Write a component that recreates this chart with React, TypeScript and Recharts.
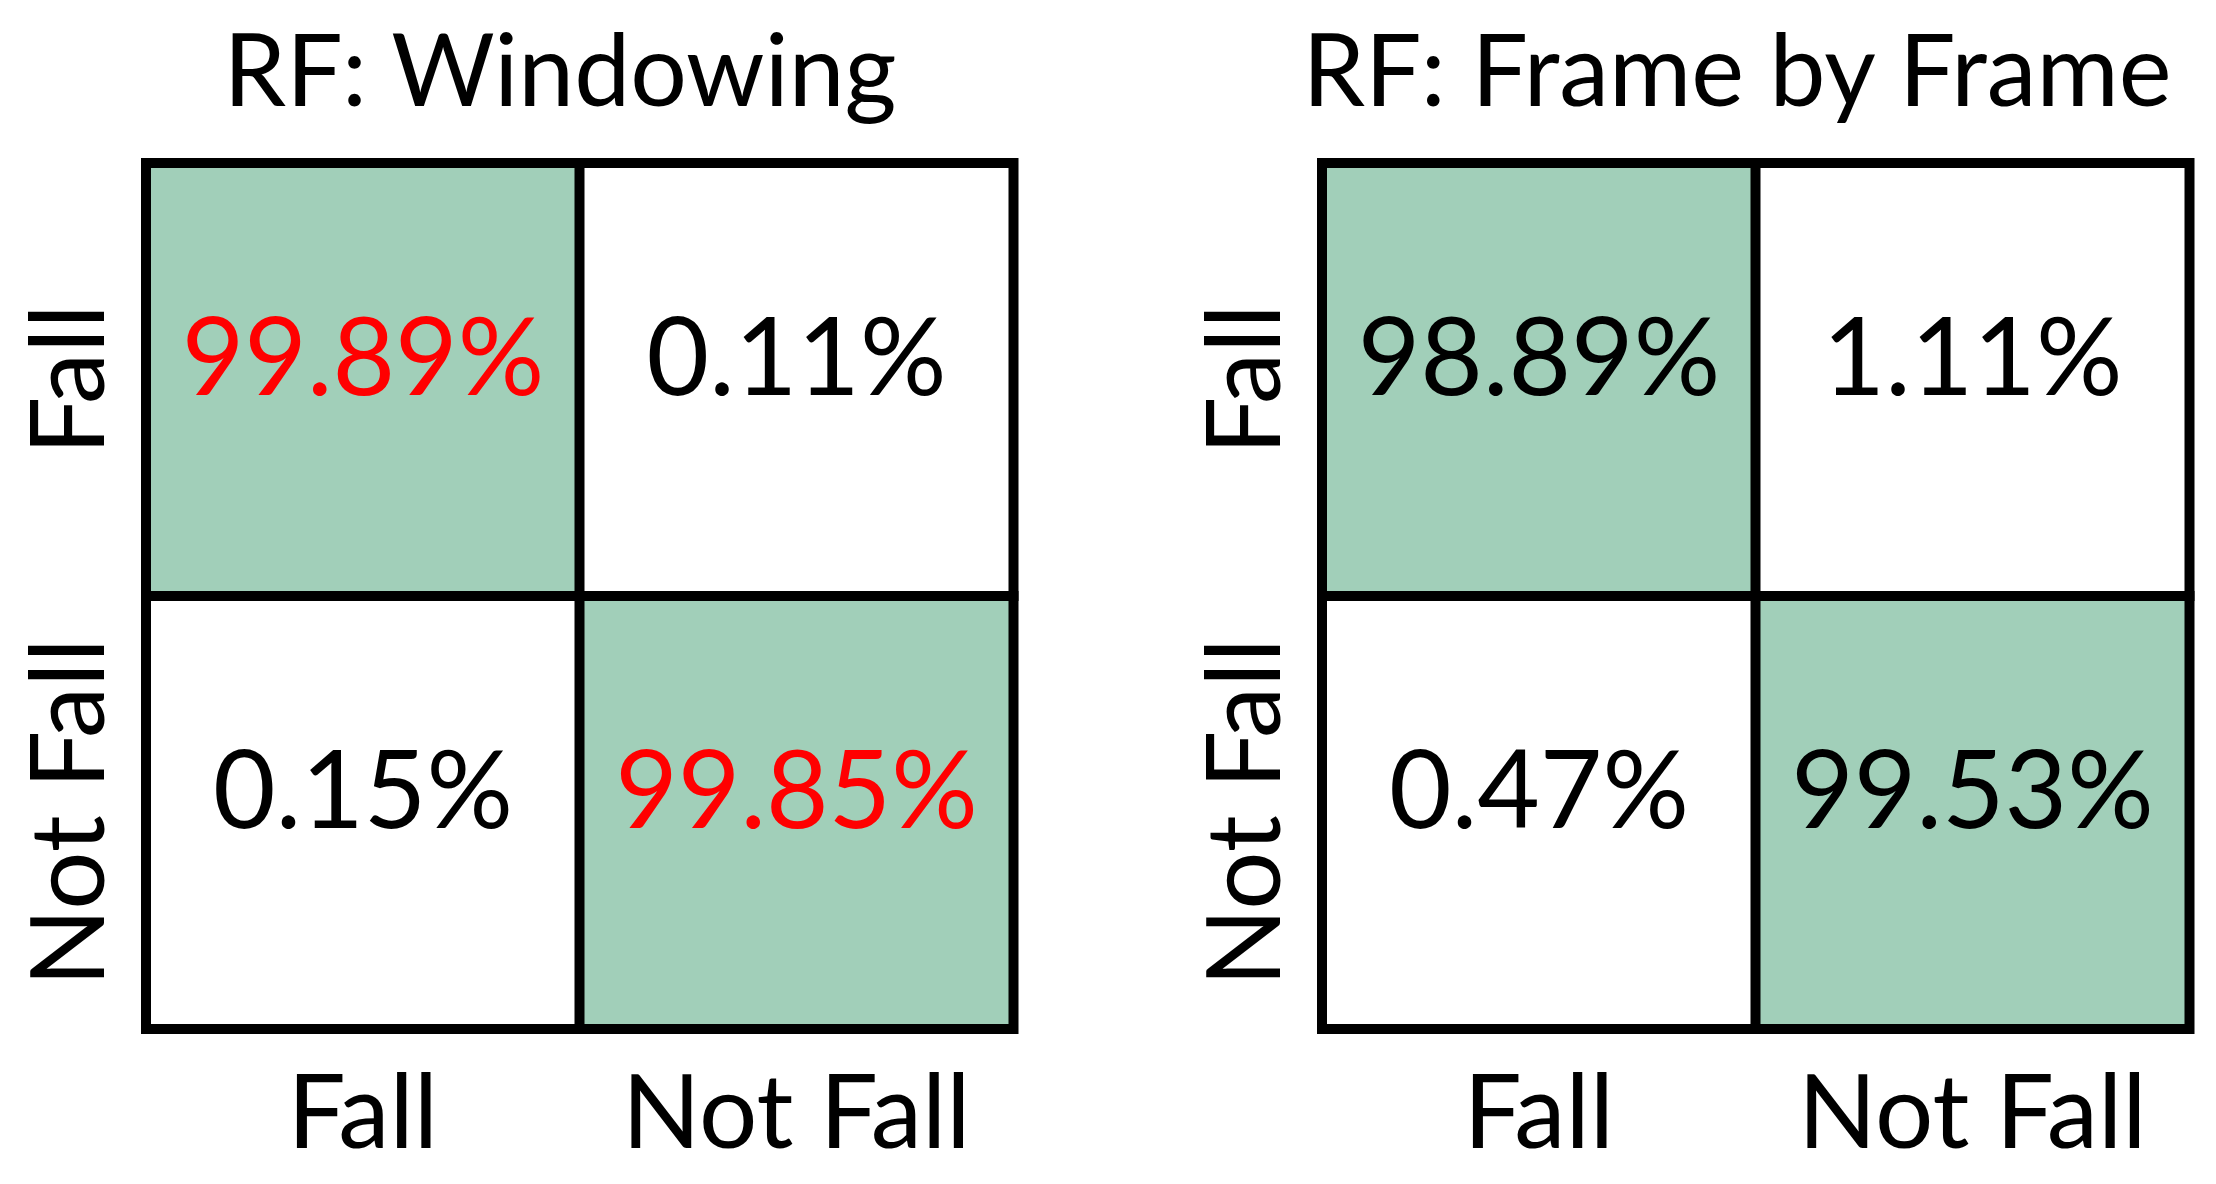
import React from "react";
import { BarChart, Bar, XAxis, YAxis, Cell } from "recharts";

const predictedLabels = ["Fall", "Not Fall"];
const actualTicks = [1.5, 0.5];
const actualLabels = ["Fall", "Not Fall"];
const windowingFallRow = [99.89, 0.11];
const windowingNotFallRow = [0.15, 99.85];
const frameFallRow = [98.89, 1.11];
const frameNotFallRow = [0.47, 99.53];
const titles = ["RF: Windowing", "RF: Frame by Frame"];

const GREEN = "#a1cfb9";
const FONT = "Lato, 'Open Sans', sans-serif";

type MatrixProps = {
  fallRow: number[];
  notFallRow: number[];
  diagColor: string;
  left: number;
  width: number;
};

function Matrix({ fallRow, notFallRow, diagColor, left, width }: MatrixProps) {
  const data = predictedLabels.map((p) => ({
    pred: p,
    notFallRow: 1,
    fallRow: 1,
  }));

  const cellLabel = (pcts: number[], diagIndex: number) => (props: any) => {
    const { x, y, width: w, height: h, index } = props;
    const color = index === diagIndex ? diagColor : "#000000";
    return (
      <text
        x={Number(x) + Number(w) / 2}
        y={Number(y) + Number(h) / 2 + 15}
        textAnchor="middle"
        fontSize={108}
        fontFamily={FONT}
        fill={color}
      >
        {pcts[index].toFixed(2) + "%"}
      </text>
    );
  };

  const yTick = (props: any) => {
    const { x, y, payload } = props;
    const label = actualLabels[actualTicks.indexOf(payload.value)];
    return (
      <text
        transform={`translate(${x - 42},${y}) rotate(-90)`}
        textAnchor="middle"
        fontSize={103}
        fontFamily={FONT}
        fill="#000"
      >
        {label}
      </text>
    );
  };

  const xTick = (props: any) => {
    const { x, y, payload } = props;
    return (
      <text x={x} y={y + 119} textAnchor="middle" fontSize={103} fontFamily={FONT} fill="#000">
        {payload.value}
      </text>
    );
  };

  return (
    <div style={{ position: "absolute", left, top: 0 }}>
      <BarChart
        width={width}
        height={1184}
        data={data}
        margin={{ top: 163, right: width - 1013, bottom: 0, left: 46 }}
        barCategoryGap={0}
        barGap={0}
      >
        <XAxis
          dataKey="pred"
          type="category"
          axisLine={false}
          tickLine={false}
          tickSize={0}
          tickMargin={0}
          height={155}
          interval={0}
          tick={xTick}
        />
        <YAxis
          type="number"
          domain={[0, 2]}
          ticks={actualTicks}
          axisLine={false}
          tickLine={false}
          tickSize={0}
          tickMargin={0}
          width={100}
          interval={0}
          tick={yTick}
        />
        <Bar
          dataKey="notFallRow"
          stackId="m"
          stroke="#000"
          strokeWidth={10}
          isAnimationActive={false}
          label={cellLabel(notFallRow, 1)}
        >
          {data.map((d, i) => (
            <Cell key={"n" + i} fill={i === 1 ? GREEN : "#ffffff"} />
          ))}
        </Bar>
        <Bar
          dataKey="fallRow"
          stackId="m"
          stroke="#000"
          strokeWidth={10}
          isAnimationActive={false}
          label={cellLabel(fallRow, 0)}
        >
          {data.map((d, i) => (
            <Cell key={"f" + i} fill={i === 0 ? GREEN : "#ffffff"} />
          ))}
        </Bar>
      </BarChart>
    </div>
  );
}

export default function App() {
  return (
    <div
      style={{
        position: "absolute",
        left: 0,
        top: 0,
        width: 2216,
        height: 1184,
        background: "#ffffff",
        overflow: "hidden",
      }}
    >
      <svg width={2216} height={140} style={{ position: "absolute", left: 0, top: 0 }}>
        <text x={560} y={106} textAnchor="middle" fontSize={100} fontFamily={FONT} fill="#000">
          {titles[0]}
        </text>
        <text x={1737} y={106} textAnchor="middle" fontSize={100} fontFamily={FONT} fill="#000">
          {titles[1]}
        </text>
      </svg>
      <Matrix fallRow={windowingFallRow} notFallRow={windowingNotFallRow} diagColor="#ff0000" left={0} width={1108} />
      <Matrix fallRow={frameFallRow} notFallRow={frameNotFallRow} diagColor="#000000" left={1176} width={1040} />
    </div>
  );
}
